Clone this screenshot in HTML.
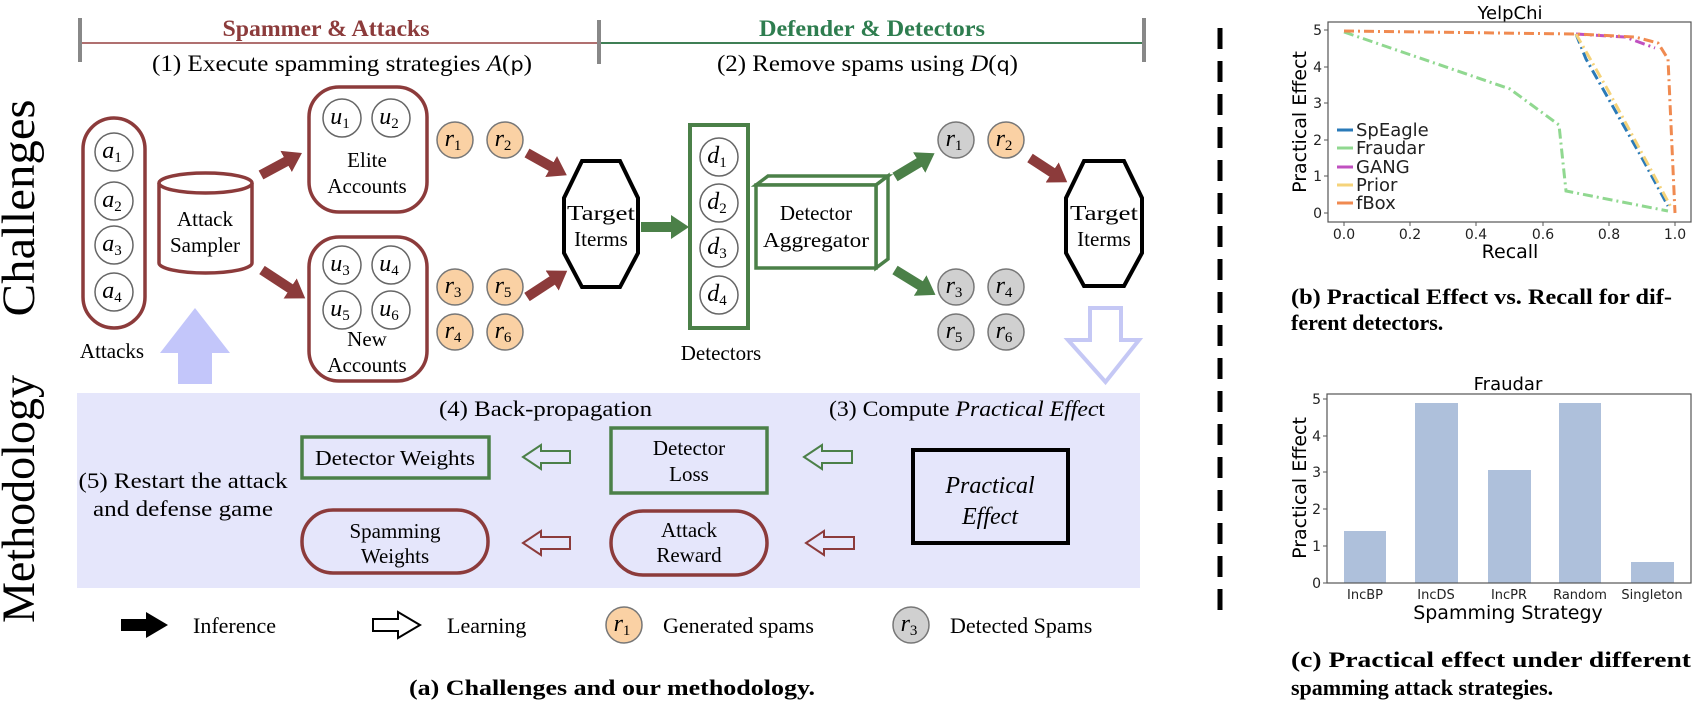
<!DOCTYPE html>
<html><head><meta charset="utf-8"><style>
html,body{margin:0;padding:0;background:#fff;}
svg{display:block;}
.s{font-family:"Liberation Serif",serif;}
.p{font-family:"DejaVu Sans","Liberation Sans",sans-serif;}
</style></head><body>
<svg width="1700" height="701" viewBox="0 0 1700 701" xmlns="http://www.w3.org/2000/svg">
<defs>
<marker id="mb" viewBox="0 0 18 24" markerWidth="18" markerHeight="24" refX="1" refY="12" orient="auto" markerUnits="userSpaceOnUse"><path d="M0,0 L18,12 L0,24 z" fill="#8c3b3b"/></marker>
<marker id="mg" viewBox="0 0 18 24" markerWidth="18" markerHeight="24" refX="1" refY="12" orient="auto" markerUnits="userSpaceOnUse"><path d="M0,0 L18,12 L0,24 z" fill="#4b8048"/></marker>
</defs>
<rect width="1700" height="701" fill="#fff"/>

<text class="s" x="34" y="208" font-size="47" text-anchor="middle" transform="rotate(-90 34 208)" textLength="217" lengthAdjust="spacingAndGlyphs">Challenges</text>
<text class="s" x="34" y="499" font-size="47" text-anchor="middle" transform="rotate(-90 34 499)" textLength="248" lengthAdjust="spacingAndGlyphs">Methodology</text>

<line x1="80" y1="43" x2="599" y2="43" stroke="#b07070" stroke-width="2"/>
<line x1="599" y1="43" x2="1143" y2="43" stroke="#3f7f55" stroke-width="2"/>
<line x1="80" y1="18" x2="80" y2="62" stroke="#888" stroke-width="4"/>
<line x1="599" y1="20" x2="599" y2="64" stroke="#888" stroke-width="4"/>
<line x1="1144" y1="18" x2="1144" y2="62" stroke="#888" stroke-width="4"/>
<text class="s" x="326" y="36" font-size="23" font-weight="bold" fill="#8c3b3b" text-anchor="middle" textLength="207" lengthAdjust="spacingAndGlyphs">Spammer &amp; Attacks</text>
<text class="s" x="872" y="36" font-size="23" font-weight="bold" fill="#2e7d4f" text-anchor="middle" textLength="226" lengthAdjust="spacingAndGlyphs">Defender &amp; Detectors</text>
<text class="s" x="152" y="71" font-size="23" textLength="380" lengthAdjust="spacingAndGlyphs">(1) Execute spamming strategies <tspan font-style="italic">A</tspan>(<tspan font-family="DejaVu Sans" font-size="19">p</tspan>)</text>
<text class="s" x="717" y="71" font-size="23" textLength="301" lengthAdjust="spacingAndGlyphs">(2) Remove spams using <tspan font-style="italic">D</tspan>(<tspan font-family="DejaVu Sans" font-size="19">q</tspan>)</text>

<rect x="83" y="118" width="62" height="210" rx="31" fill="none" stroke="#8c3b3b" stroke-width="3.5"/>
<g fill="#fff" stroke="#666" stroke-width="1.5">
<circle cx="114" cy="152" r="19"/><circle cx="114" cy="201" r="19"/><circle cx="114" cy="245" r="19"/><circle cx="114" cy="292" r="19"/>
</g>
<g class="s" font-size="24" font-style="italic" text-anchor="middle">
<text x="112" y="158">a<tspan font-style="normal" font-size="15" dy="4">1</tspan></text>
<text x="112" y="207">a<tspan font-style="normal" font-size="15" dy="4">2</tspan></text>
<text x="112" y="251">a<tspan font-style="normal" font-size="15" dy="4">3</tspan></text>
<text x="112" y="298">a<tspan font-style="normal" font-size="15" dy="4">4</tspan></text>
</g>
<text class="s" x="112" y="358" font-size="21" text-anchor="middle">Attacks</text>

<path d="M159,183 L159,263 A46.5,10 0 0 0 252,263 L252,183" fill="#fff" stroke="#8c3b3b" stroke-width="3.5"/>
<ellipse cx="205.5" cy="183" rx="46.5" ry="10" fill="#fff" stroke="#8c3b3b" stroke-width="3.5"/>
<text class="s" x="205" y="226" font-size="21" text-anchor="middle">Attack</text>
<text class="s" x="205" y="252" font-size="21" text-anchor="middle">Sampler</text>

<path d="M195,308 L230,353 L212,353 L212,384 L178,384 L178,353 L160,353 Z" fill="#c3c6fa"/>

<rect x="309" y="87" width="118" height="125" rx="30" fill="none" stroke="#8c3b3b" stroke-width="3.5"/>
<rect x="309" y="237" width="118" height="144" rx="30" fill="none" stroke="#8c3b3b" stroke-width="3.5"/>
<g fill="#fff" stroke="#666" stroke-width="1.5">
<circle cx="342" cy="118" r="19"/><circle cx="391" cy="118" r="19"/>
<circle cx="342" cy="265" r="19"/><circle cx="391" cy="265" r="19"/>
<circle cx="342" cy="310" r="19"/><circle cx="391" cy="310" r="19"/>
</g>
<g class="s" font-size="24" font-style="italic" text-anchor="middle">
<text x="340" y="124">u<tspan font-style="normal" font-size="15" dy="4">1</tspan></text>
<text x="389" y="124">u<tspan font-style="normal" font-size="15" dy="4">2</tspan></text>
<text x="340" y="271">u<tspan font-style="normal" font-size="15" dy="4">3</tspan></text>
<text x="389" y="271">u<tspan font-style="normal" font-size="15" dy="4">4</tspan></text>
<text x="340" y="316">u<tspan font-style="normal" font-size="15" dy="4">5</tspan></text>
<text x="389" y="316">u<tspan font-style="normal" font-size="15" dy="4">6</tspan></text>
</g>
<text class="s" x="367" y="167" font-size="21" text-anchor="middle">Elite</text>
<text class="s" x="367" y="193" font-size="21" text-anchor="middle">Accounts</text>
<text class="s" x="367" y="346" font-size="21" text-anchor="middle">New</text>
<text class="s" x="367" y="372" font-size="21" text-anchor="middle">Accounts</text>

<g stroke="#8c3b3b" stroke-width="10" fill="none">
<line x1="261" y1="175" x2="287" y2="161" marker-end="url(#mb)"/>
<line x1="262" y1="270" x2="291" y2="289" marker-end="url(#mb)"/>
<line x1="527" y1="153" x2="552" y2="167" marker-end="url(#mb)"/>
<line x1="527" y1="297" x2="553" y2="280" marker-end="url(#mb)"/>
<line x1="1030" y1="158" x2="1053" y2="173" marker-end="url(#mb)"/>
</g>

<g fill="#fad1a4" stroke="#777" stroke-width="1.5">
<circle cx="455" cy="140" r="18"/><circle cx="505" cy="140" r="18"/>
<circle cx="455" cy="287" r="18"/><circle cx="505" cy="287" r="18"/>
<circle cx="455" cy="332" r="18"/><circle cx="505" cy="332" r="18"/>
<circle cx="1006" cy="140" r="18"/>
<circle cx="624" cy="625" r="18"/>
</g>
<g fill="#d0d0d0" stroke="#777" stroke-width="1.5">
<circle cx="956" cy="140" r="18"/>
<circle cx="956" cy="287" r="18"/><circle cx="1006" cy="287" r="18"/>
<circle cx="956" cy="332" r="18"/><circle cx="1006" cy="332" r="18"/>
<circle cx="911" cy="625" r="18"/>
</g>
<g class="s" font-size="24" font-style="italic" text-anchor="middle">
<text x="453" y="146">r<tspan font-style="normal" font-size="15" dy="4">1</tspan></text>
<text x="503" y="146">r<tspan font-style="normal" font-size="15" dy="4">2</tspan></text>
<text x="453" y="293">r<tspan font-style="normal" font-size="15" dy="4">3</tspan></text>
<text x="503" y="293">r<tspan font-style="normal" font-size="15" dy="4">5</tspan></text>
<text x="453" y="338">r<tspan font-style="normal" font-size="15" dy="4">4</tspan></text>
<text x="503" y="338">r<tspan font-style="normal" font-size="15" dy="4">6</tspan></text>
<text x="954" y="146">r<tspan font-style="normal" font-size="15" dy="4">1</tspan></text>
<text x="1004" y="146">r<tspan font-style="normal" font-size="15" dy="4">2</tspan></text>
<text x="954" y="293">r<tspan font-style="normal" font-size="15" dy="4">3</tspan></text>
<text x="1004" y="293">r<tspan font-style="normal" font-size="15" dy="4">4</tspan></text>
<text x="954" y="338">r<tspan font-style="normal" font-size="15" dy="4">5</tspan></text>
<text x="1004" y="338">r<tspan font-style="normal" font-size="15" dy="4">6</tspan></text>
<text x="622" y="631">r<tspan font-style="normal" font-size="15" dy="4">1</tspan></text>
<text x="909" y="631">r<tspan font-style="normal" font-size="15" dy="4">3</tspan></text>
</g>

<polygon points="582,161 620,161 638,198 638,253 620,287 582,287 564,253 564,198" fill="#fff" stroke="#000" stroke-width="4"/>
<text class="s" x="601" y="220" font-size="21" text-anchor="middle" textLength="68" lengthAdjust="spacingAndGlyphs">Target</text>
<text class="s" x="601" y="246" font-size="21" text-anchor="middle">Iterms</text>
<polygon points="1084,161 1124,161 1142,198 1142,253 1124,286 1084,286 1066,253 1066,198" fill="#fff" stroke="#000" stroke-width="4"/>
<text class="s" x="1104" y="220" font-size="21" text-anchor="middle" textLength="68" lengthAdjust="spacingAndGlyphs">Target</text>
<text class="s" x="1104" y="246" font-size="21" text-anchor="middle">Iterms</text>

<g stroke="#4b8048" stroke-width="10" fill="none">
<line x1="641" y1="227" x2="672" y2="227" marker-end="url(#mg)"/>
<line x1="895" y1="177" x2="920" y2="162" marker-end="url(#mg)"/>
<line x1="895" y1="270" x2="921" y2="286" marker-end="url(#mg)"/>
</g>

<rect x="690" y="125" width="58" height="203" fill="none" stroke="#4b8048" stroke-width="4"/>
<g fill="#fff" stroke="#666" stroke-width="1.5">
<circle cx="719" cy="157" r="19"/><circle cx="719" cy="203" r="19"/><circle cx="719" cy="248" r="19"/><circle cx="719" cy="295" r="19"/>
</g>
<g class="s" font-size="24" font-style="italic" text-anchor="middle">
<text x="717" y="163">d<tspan font-style="normal" font-size="15" dy="4">1</tspan></text>
<text x="717" y="209">d<tspan font-style="normal" font-size="15" dy="4">2</tspan></text>
<text x="717" y="254">d<tspan font-style="normal" font-size="15" dy="4">3</tspan></text>
<text x="717" y="301">d<tspan font-style="normal" font-size="15" dy="4">4</tspan></text>
</g>
<text class="s" x="721" y="360" font-size="21" text-anchor="middle">Detectors</text>

<g fill="#fff" stroke="#4b8048" stroke-width="3.5" stroke-linejoin="miter">
<polygon points="756,185 768,176 888,176 876,185"/>
<polygon points="876,185 888,176 888,259 876,268"/>
<rect x="756" y="185" width="120" height="83"/>
</g>
<text class="s" x="816" y="220" font-size="21" text-anchor="middle">Detector</text>
<text class="s" x="816" y="247" font-size="21" text-anchor="middle" textLength="106" lengthAdjust="spacingAndGlyphs">Aggregator</text>

<path d="M1090,308 L1121,308 L1121,340 L1139,340 L1105.5,382 L1068,340 L1090,340 Z" fill="none" stroke="#c5c8f5" stroke-width="4"/>

<rect x="77" y="393" width="1063" height="195" fill="#e5e6fb"/>
<text class="s" x="439" y="416" font-size="22" textLength="213" lengthAdjust="spacingAndGlyphs">(4) Back-propagation</text>
<text class="s" x="829" y="416" font-size="22" textLength="276" lengthAdjust="spacingAndGlyphs">(3) Compute <tspan font-style="italic">Practical Effec</tspan>t</text>
<text class="s" x="183" y="488" font-size="22" text-anchor="middle" textLength="209" lengthAdjust="spacingAndGlyphs">(5) Restart the attack</text>
<text class="s" x="183" y="516" font-size="22" text-anchor="middle" textLength="180" lengthAdjust="spacingAndGlyphs">and defense game</text>

<rect x="302" y="437" width="187" height="41" fill="none" stroke="#4b8048" stroke-width="3.5"/>
<text class="s" x="395" y="465" font-size="21" text-anchor="middle" textLength="160" lengthAdjust="spacingAndGlyphs">Detector Weights</text>
<rect x="302" y="510" width="186" height="63" rx="31" fill="none" stroke="#8c3b3b" stroke-width="3.5"/>
<text class="s" x="395" y="538" font-size="21" text-anchor="middle">Spamming</text>
<text class="s" x="395" y="563" font-size="21" text-anchor="middle">Weights</text>

<rect x="611" y="428" width="156" height="65" fill="none" stroke="#4b8048" stroke-width="3.5"/>
<text class="s" x="689" y="455" font-size="21" text-anchor="middle">Detector</text>
<text class="s" x="689" y="481" font-size="21" text-anchor="middle">Loss</text>
<rect x="611" y="511" width="156" height="64" rx="32" fill="none" stroke="#8c3b3b" stroke-width="3.5"/>
<text class="s" x="689" y="537" font-size="21" text-anchor="middle">Attack</text>
<text class="s" x="689" y="562" font-size="21" text-anchor="middle">Reward</text>

<rect x="913" y="450" width="155" height="93" fill="none" stroke="#000" stroke-width="4"/>
<text class="s" x="990" y="493" font-size="24" font-style="italic" text-anchor="middle">Practical</text>
<text class="s" x="990" y="524" font-size="24" font-style="italic" text-anchor="middle">Effect</text>

<g fill="none" stroke-width="2">
<path d="M523,457 L541,445 L541,451 L570,451 L570,463 L541,463 L541,469 Z" stroke="#4b8048"/>
<path d="M804,457 L822,445 L822,451 L852,451 L852,463 L822,463 L822,469 Z" stroke="#4b8048"/>
<path d="M523,543 L541,531 L541,537 L570,537 L570,549 L541,549 L541,555 Z" stroke="#8c3b3b"/>
<path d="M806,543 L824,531 L824,537 L854,537 L854,549 L824,549 L824,555 Z" stroke="#8c3b3b"/>
</g>

<path d="M121,619 L146,619 L146,612 L168,625 L146,638 L146,631 L121,631 Z" fill="#000"/>
<text class="s" x="193" y="633" font-size="22">Inference</text>
<path d="M373,619 L398,619 L398,612 L420,625 L398,638 L398,631 L373,631 Z" fill="none" stroke="#000" stroke-width="2"/>
<text class="s" x="447" y="633" font-size="22">Learning</text>
<text class="s" x="663" y="633" font-size="22">Generated spams</text>
<text class="s" x="950" y="633" font-size="22">Detected Spams</text>

<text class="s" x="409" y="695" font-size="22" font-weight="bold" textLength="406" lengthAdjust="spacingAndGlyphs">(a) Challenges and our methodology.</text>

<line x1="1220" y1="28" x2="1220" y2="622" stroke="#000" stroke-width="5" stroke-dasharray="21 12"/>

<text class="p" x="1510" y="19" font-size="18" text-anchor="middle">YelpChi</text>
<rect x="1328" y="22" width="363" height="200" fill="none" stroke="#555" stroke-width="1.2"/>
<g class="p" font-size="14" fill="#222" text-anchor="end">
<text x="1322" y="35">5</text><text x="1322" y="72">4</text><text x="1322" y="108">3</text><text x="1322" y="145">2</text><text x="1322" y="181">1</text><text x="1322" y="218">0</text>
</g>
<g stroke="#555" stroke-width="1"><line x1="1324" y1="30" x2="1328" y2="30"/><line x1="1324" y1="67" x2="1328" y2="67"/><line x1="1324" y1="103" x2="1328" y2="103"/><line x1="1324" y1="140" x2="1328" y2="140"/><line x1="1324" y1="176" x2="1328" y2="176"/><line x1="1324" y1="213" x2="1328" y2="213"/>
<line x1="1344" y1="222" x2="1344" y2="226"/><line x1="1410" y1="222" x2="1410" y2="226"/><line x1="1476" y1="222" x2="1476" y2="226"/><line x1="1543" y1="222" x2="1543" y2="226"/><line x1="1609" y1="222" x2="1609" y2="226"/><line x1="1675" y1="222" x2="1675" y2="226"/></g>
<g class="p" font-size="14" fill="#222" text-anchor="middle">
<text x="1344" y="239">0.0</text><text x="1410" y="239">0.2</text><text x="1476" y="239">0.4</text><text x="1543" y="239">0.6</text><text x="1609" y="239">0.8</text><text x="1675" y="239">1.0</text>
</g>
<text class="p" x="1510" y="258" font-size="19" text-anchor="middle">Recall</text>
<text class="p" x="1306" y="122" font-size="19" text-anchor="middle" transform="rotate(-90 1306 122)">Practical Effect</text>
<g fill="none" stroke-width="3" stroke-dasharray="10 4 2 4">
<polyline points="1576,34 1586,59 1642,158 1668,206" stroke="#2a7ab8"/>
<polyline points="1344,32 1510,89 1559,125 1566,191 1668,211" stroke="#90d890"/>
<polyline points="1576,34 1625,37 1655,48" stroke="#c050c0"/>
<polyline points="1576,34 1609,92 1672,209" stroke="#f5d37a"/>
<polyline points="1344,31 1576,34 1635,37 1658,43 1668,59 1675,213" stroke="#f08a50"/>
</g>
<g stroke-width="3">
<line x1="1337" y1="130" x2="1353" y2="130" stroke="#2a7ab8"/>
<line x1="1337" y1="148" x2="1353" y2="148" stroke="#90d890"/>
<line x1="1337" y1="167" x2="1353" y2="167" stroke="#c050c0"/>
<line x1="1337" y1="185" x2="1353" y2="185" stroke="#f5d37a"/>
<line x1="1337" y1="203" x2="1353" y2="203" stroke="#f08a50"/>
</g>
<g class="p" font-size="18" fill="#222">
<text x="1356" y="136">SpEagle</text><text x="1356" y="154">Fraudar</text><text x="1356" y="173">GANG</text><text x="1356" y="191">Prior</text><text x="1356" y="209">fBox</text>
</g>
<text class="s" x="1291" y="304" font-size="22" font-weight="bold" textLength="381" lengthAdjust="spacingAndGlyphs">(b) Practical Effect vs. Recall for dif-</text>
<text class="s" x="1291" y="330" font-size="22" font-weight="bold">ferent detectors.</text>

<text class="p" x="1508" y="390" font-size="18" text-anchor="middle">Fraudar</text>
<g fill="#aec0db">
<rect x="1344" y="531" width="42" height="52"/>
<rect x="1415" y="403" width="43" height="180"/>
<rect x="1488" y="470" width="43" height="113"/>
<rect x="1559" y="403" width="42" height="180"/>
<rect x="1631" y="562" width="43" height="21"/>
</g>
<rect x="1327" y="394" width="364" height="189" fill="none" stroke="#555" stroke-width="1.2"/>
<g class="p" font-size="14" fill="#222" text-anchor="end">
<text x="1321" y="404">5</text><text x="1321" y="441">4</text><text x="1321" y="477">3</text><text x="1321" y="514">2</text><text x="1321" y="551">1</text><text x="1321" y="588">0</text>
</g>
<g stroke="#555" stroke-width="1"><line x1="1323" y1="399" x2="1327" y2="399"/><line x1="1323" y1="436" x2="1327" y2="436"/><line x1="1323" y1="472" x2="1327" y2="472"/><line x1="1323" y1="509" x2="1327" y2="509"/><line x1="1323" y1="546" x2="1327" y2="546"/><line x1="1323" y1="583" x2="1327" y2="583"/></g>
<g class="p" font-size="13" fill="#222" text-anchor="middle">
<text x="1365" y="599">IncBP</text><text x="1436" y="599">IncDS</text><text x="1509" y="599">IncPR</text><text x="1580" y="599">Random</text><text x="1652" y="599">Singleton</text>
</g>
<text class="p" x="1508" y="619" font-size="19" text-anchor="middle">Spamming Strategy</text>
<text class="p" x="1306" y="488" font-size="19" text-anchor="middle" transform="rotate(-90 1306 488)">Practical Effect</text>
<text class="s" x="1291" y="667" font-size="22" font-weight="bold" textLength="400" lengthAdjust="spacingAndGlyphs">(c) Practical effect under different</text>
<text class="s" x="1291" y="695" font-size="22" font-weight="bold">spamming attack strategies.</text>
</svg>
</body></html>
